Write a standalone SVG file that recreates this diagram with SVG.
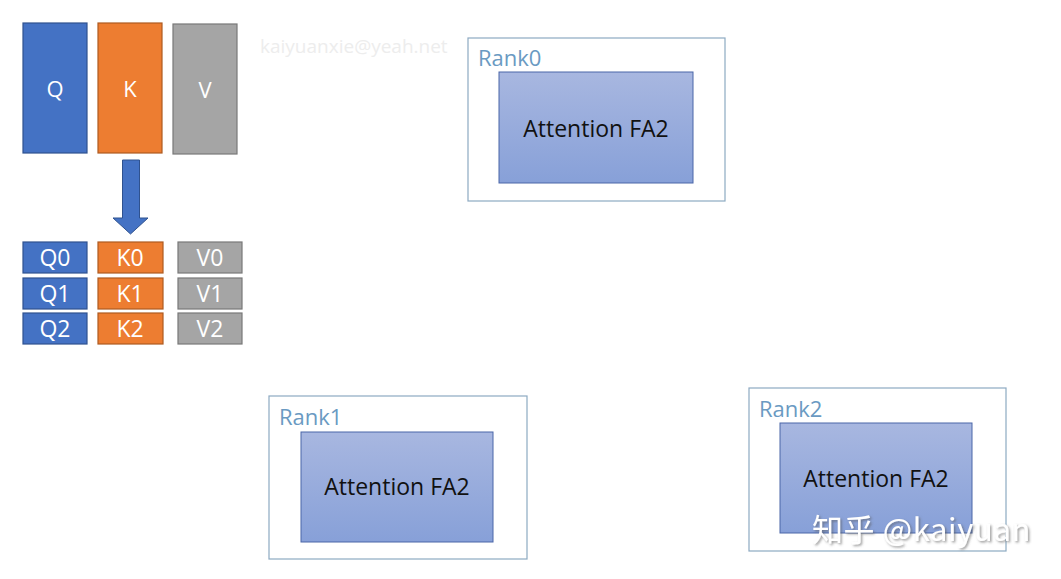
<svg xmlns="http://www.w3.org/2000/svg" width="1061" height="579" viewBox="0 0 1061 579">
<defs>
<linearGradient id="g" x1="0" y1="0" x2="0" y2="1">
<stop offset="0" stop-color="#A8B7E0"/>
<stop offset="1" stop-color="#87A0D8"/>
</linearGradient>
<filter id="sh" x="-10%" y="-20%" width="120%" height="140%">
<feDropShadow dx="1.5" dy="1.5" stdDeviation="1" flood-color="#555" flood-opacity="0.6"/>
</filter>
<style>
.t{font-family:"Open Sans","Noto Sans","Liberation Sans",sans-serif;}
.w{fill:#fff;font-size:22px;text-anchor:middle;}
.s{font-size:23px;}
.q{fill:#4472C4;stroke:#2F528F;stroke-width:1.2;}
.k{fill:#ED7D31;stroke:#AE5A21;stroke-width:1.2;}
.v{fill:#A5A5A5;stroke:#787878;stroke-width:1.2;}
.outer{fill:#fff;stroke:#8DAAC2;stroke-width:1.2;}
.inner{fill:url(#g);stroke:#4A66A8;stroke-width:1;}
.rk{fill:#6A9AC2;font-size:22px;}
.at{fill:#111;font-size:23px;text-anchor:middle;}
</style>
</defs>
<rect width="1061" height="579" fill="#fff"/>
<g id="Q"><rect class="q" x="23" y="23" width="64" height="130"/><text class="t w" x="55" y="97">Q</text></g>
<g id="K"><rect class="k" x="98" y="23" width="64" height="130"/><text class="t w" x="130" y="97">K</text></g>
<g id="V"><rect class="v" x="173" y="24" width="64" height="130"/><text class="t w" x="205" y="98">V</text></g>
<g id="connectors">
<path d="M122.5 160 H139.5 V218 H148 L130.5 234 L113 218 H122.5 Z" fill="#4472C4" stroke="#2F528F" stroke-width="1"/>
</g>
<g id="Q0"><rect class="q" x="23" y="242" width="64" height="31"/><text class="t w s" x="55" y="266">Q0</text></g>
<g id="Q1"><rect class="q" x="23" y="278" width="64" height="31"/><text class="t w s" x="55" y="302">Q1</text></g>
<g id="Q2"><rect class="q" x="23" y="313" width="64" height="31"/><text class="t w s" x="55" y="337">Q2</text></g>
<g id="K0"><rect class="k" x="98" y="242" width="65" height="31"/><text class="t w s" x="130" y="266">K0</text></g>
<g id="K1"><rect class="k" x="98" y="278" width="65" height="31"/><text class="t w s" x="130" y="302">K1</text></g>
<g id="K2"><rect class="k" x="98" y="313" width="65" height="31"/><text class="t w s" x="130" y="337">K2</text></g>
<g id="V0"><rect class="v" x="178" y="242" width="64" height="31"/><text class="t w s" x="210" y="266">V0</text></g>
<g id="V1"><rect class="v" x="178" y="278" width="64" height="31"/><text class="t w s" x="210" y="302">V1</text></g>
<g id="V2"><rect class="v" x="178" y="313" width="64" height="31"/><text class="t w s" x="210" y="337">V2</text></g>
<text class="t" x="260" y="53" font-size="19" fill="#EDEDED">kaiyuanxie@yeah.net</text>
<g id="Rank0">
<rect class="outer" x="468" y="38" width="257" height="163"/>
<text class="t rk" x="478" y="66">Rank0</text>
<rect class="inner" x="499" y="72" width="194" height="111"/>
<text class="t at" x="596" y="137">Attention FA2</text>
</g>
<g id="Rank1">
<rect class="outer" x="269" y="396" width="258" height="163"/>
<text class="t rk" x="279" y="425">Rank1</text>
<rect class="inner" x="301" y="432" width="192" height="110"/>
<text class="t at" x="397" y="495">Attention FA2</text>
</g>
<g id="Rank2">
<rect class="outer" x="749" y="388" width="257" height="163"/>
<text class="t rk" x="759" y="417">Rank2</text>
<rect class="inner" x="780" y="423" width="192" height="110"/>
<text class="t at" x="876" y="487">Attention FA2</text>
</g>
<text x="812" y="541" font-family="'Noto Sans CJK SC','Open Sans',sans-serif" font-size="31" letter-spacing="0.6" fill="#fff" filter="url(#sh)">知乎 @kaiyuan</text>
</svg>
